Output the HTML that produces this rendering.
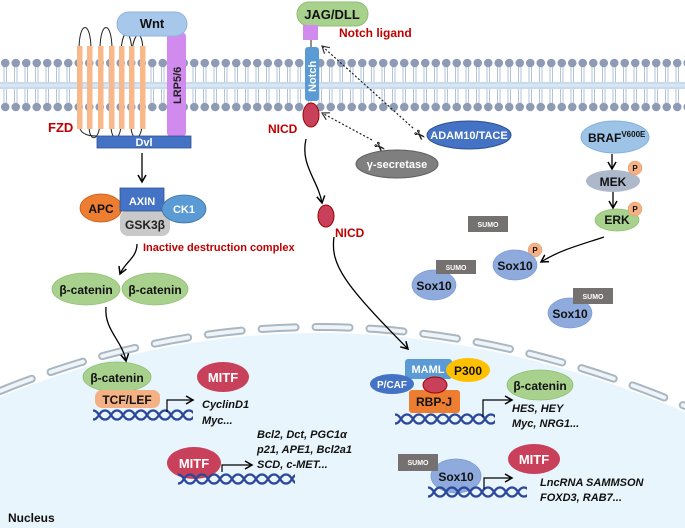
<!DOCTYPE html>
<html><head><meta charset="utf-8"><style>
html,body{margin:0;padding:0;background:#fff;}
svg{display:block;font-family:"Liberation Sans",Arial,sans-serif;font-weight:bold;}
</style></head><body>
<svg width="685" height="528" viewBox="0 0 685 528" xmlns="http://www.w3.org/2000/svg">
<defs>
<pattern id="mem" width="10.5" height="60" patternUnits="userSpaceOnUse">
 <line x1="4" y1="12" x2="4" y2="27" stroke="#b3c3d8" stroke-width="1"/>
 <line x1="6.5" y1="12" x2="6.5" y2="27" stroke="#b3c3d8" stroke-width="1"/>
 <line x1="4" y1="34" x2="4" y2="48" stroke="#b3c3d8" stroke-width="1"/>
 <line x1="6.5" y1="34" x2="6.5" y2="48" stroke="#b3c3d8" stroke-width="1"/>
 <circle cx="5.25" cy="8" r="4.3" fill="#8e9bb5"/>
 <circle cx="5.25" cy="52" r="4.3" fill="#8e9bb5"/>
</pattern>
<pattern id="dna" width="24" height="12" patternUnits="userSpaceOnUse">
 <path d="M0,1.5 C6,1.5 6,10.5 12,10.5 C18,10.5 18,1.5 24,1.5" fill="none" stroke="#2b479b" stroke-width="2.3"/>
 <path d="M0,10.5 C6,10.5 6,1.5 12,1.5 C18,1.5 18,10.5 24,10.5" fill="none" stroke="#2b479b" stroke-width="2.3"/>
</pattern>
<marker id="ar" markerWidth="10" markerHeight="10" refX="8" refY="5" orient="auto" markerUnits="userSpaceOnUse">
 <path d="M1,1 L8,5 L1,9" fill="none" stroke="#000" stroke-width="1.5"/>
</marker>
<marker id="ar2" markerWidth="10" markerHeight="10" refX="8" refY="5" orient="auto" markerUnits="userSpaceOnUse">
 <path d="M1,1 L8,5 L1,9" fill="none" stroke="#333" stroke-width="1.2"/>
</marker>
</defs>

<path d="M0,397 Q330,262 685,412 L685,528 L0,528 Z" fill="#e8f5fc"/>
<path d="M0,391 Q330,256 685,406" fill="none" stroke="#a9b7c2" stroke-width="8" stroke-linecap="round" stroke-dasharray="34 20"/>
<path d="M0,391 Q330,256 685,406" fill="none" stroke="#eef4f8" stroke-width="4" stroke-linecap="round" stroke-dasharray="34 20"/>

<rect x="0" y="82" width="685" height="7" fill="#d6e6f5"/>
<line x1="0" y1="83" x2="685" y2="83" stroke="#b9cde3" stroke-width="1"/>
<line x1="0" y1="88" x2="685" y2="88" stroke="#b9cde3" stroke-width="1"/>
<g transform="translate(0,55)"><rect x="0" y="0" width="685" height="60" fill="url(#mem)"/></g>

<g fill="none" stroke="#222" stroke-width="1">
 <path d="M79,50 C79,20 91,20 91,50"/>
 <path d="M100,50 C100,20 112,20 112,50"/>
 <path d="M121,50 C123,28 130,28 132,50"/>
 <path d="M132,50 C135,30 142,30 143,50"/>
 <path d="M89,125 C89,142 98,142 100,125"/>
 <path d="M111,125 C111,142 120,142 121,125"/>
 <path d="M131,125 C131,142 141,142 142,125"/>
 <path d="M79,125 C80,136 92,136 97,136"/>
</g>
<g fill="#f9b88a">
 <rect x="77" y="46" width="5.5" height="83"/><rect x="87" y="46" width="5.5" height="83"/>
 <rect x="98" y="46" width="5.5" height="83"/><rect x="109" y="46" width="5.5" height="83"/>
 <rect x="119" y="46" width="5.5" height="83"/><rect x="129" y="46" width="5.5" height="83"/>
 <rect x="140" y="46" width="5.5" height="83"/>
</g>
<text x="48" y="132" font-size="13" fill="#c00000">FZD</text>
<rect x="167" y="33" width="19" height="103" rx="3" fill="#d18bef"/>
<text transform="translate(181,104) rotate(-90)" font-size="11" fill="#222">LRP5/6</text>
<rect x="117" y="12" width="70" height="24" rx="12" fill="#a7c8ea" stroke="#8fb4de"/>
<text x="152" y="28" font-size="13" text-anchor="middle" fill="#111">Wnt</text>
<rect x="97" y="136" width="94" height="12" fill="#4472c4" stroke="#2f528f" stroke-width="0.8"/>
<text x="144" y="146" font-size="11" text-anchor="middle" fill="#fff">Dvl</text>
<line x1="142" y1="153" x2="142" y2="182" stroke="#000" stroke-width="1.3" marker-end="url(#ar)"/>

<ellipse cx="101" cy="208" rx="21" ry="14" fill="#ed7d31" stroke="#c55a11" stroke-width="0.8"/>
<text x="101" y="213" font-size="12" text-anchor="middle" fill="#111">APC</text>
<rect x="120" y="210" width="50" height="26" rx="8" fill="#c9c9c9"/>
<text x="145" y="229" font-size="12" text-anchor="middle" fill="#222">GSK3β</text>
<rect x="120" y="188" width="44" height="23" fill="#4472c4" stroke="#2f528f" stroke-width="0.8"/>
<text x="142" y="205" font-size="11" text-anchor="middle" fill="#fff">AXIN</text>
<ellipse cx="184" cy="209" rx="22" ry="14" fill="#5b9bd5" stroke="#41719c" stroke-width="0.8"/>
<text x="184" y="213" font-size="11" text-anchor="middle" fill="#fff">CK1</text>
<text x="143" y="251" font-size="11" fill="#c00000">Inactive destruction complex</text>
<path d="M137,244 C137,258 125,262 120,274" fill="none" stroke="#000" stroke-width="1.3" marker-end="url(#ar)"/>

<g fill="#a9d18e" stroke="#8fbf70" stroke-width="0.8">
 <ellipse cx="86" cy="289" rx="34" ry="16"/><ellipse cx="155" cy="289" rx="33" ry="16"/>
 <ellipse cx="117" cy="377" rx="34" ry="15"/><ellipse cx="540" cy="385" rx="33" ry="15"/>
 <ellipse cx="617" cy="220" rx="22" ry="11"/>
</g>
<g font-size="12" text-anchor="middle" fill="#111">
 <text x="86" y="294">β-catenin</text><text x="155" y="294">β-catenin</text>
 <text x="117" y="382">β-catenin</text><text x="540" y="390">β-catenin</text>
</g>
<path d="M106,307 C104,330 122,340 126,361" fill="none" stroke="#000" stroke-width="1.3" marker-end="url(#ar)"/>
<rect x="95" y="390" width="65" height="18" rx="7" fill="#f4b183"/>
<text x="127" y="404" font-size="12" text-anchor="middle" fill="#111">TCF/LEF</text>
<g transform="translate(93,409)"><rect width="100" height="12" fill="url(#dna)"/></g>
<path d="M167,412 V400 H193" fill="none" stroke="#000" stroke-width="1.2" marker-end="url(#ar)"/>
<g fill="#c9405a">
 <ellipse cx="223" cy="377" rx="26" ry="15"/><ellipse cx="194" cy="463" rx="27" ry="16"/>
 <ellipse cx="534" cy="459" rx="26" ry="15"/>
</g>
<g font-size="13" text-anchor="middle" fill="#fff">
 <text x="223" y="382">MITF</text><text x="194" y="468">MITF</text><text x="534" y="464">MITF</text>
</g>
<g font-size="11" font-style="italic" fill="#111">
 <text x="202" y="408">CyclinD1</text><text x="202" y="424">Myc...</text>
 <text x="257" y="438">Bcl2, Dct, PGC1α</text><text x="257" y="453">p21, APE1, Bcl2a1</text><text x="257" y="468">SCD, c-MET...</text>
 <text x="512" y="412">HES, HEY</text><text x="512" y="427">Myc, NRG1...</text>
 <text x="540" y="486">LncRNA SAMMSON</text><text x="540" y="501">FOXD3, RAB7...</text>
</g>
<g transform="translate(178,473)"><rect width="117" height="12" fill="url(#dna)"/></g>
<path d="M222,472 V465 H252" fill="none" stroke="#000" stroke-width="1.2" marker-end="url(#ar)"/>
<text x="8" y="522" font-size="12" fill="#111">Nucleus</text>

<rect x="297" y="2" width="71" height="24" rx="12" fill="#a9d18e" stroke="#8fbf70"/>
<text x="332" y="19" font-size="13" text-anchor="middle" fill="#111">JAG/DLL</text>
<rect x="303" y="25" width="15" height="15" fill="#d18bef"/>
<text x="339" y="37" font-size="12" fill="#c00000">Notch ligand</text>
<line x1="311" y1="40" x2="311" y2="48" stroke="#222"/>
<rect x="305" y="47" width="14" height="54" rx="3" fill="#5b9bd5"/>
<text transform="translate(316,92) rotate(-90)" font-size="11" fill="#fff">Notch</text>
<ellipse cx="311" cy="115" rx="8" ry="12" fill="#c9405a" stroke="#a00000"/>
<text x="268" y="133" font-size="12" fill="#c00000">NICD</text>
<line x1="413" y1="128" x2="322" y2="46" stroke="#222" stroke-width="1.2" stroke-dasharray="2 2" marker-end="url(#ar2)"/>
<line x1="372" y1="140" x2="322" y2="113" stroke="#222" stroke-width="1.2" stroke-dasharray="2 2" marker-end="url(#ar2)"/>
<text x="416" y="136" font-size="13" fill="#222" transform="rotate(45 416 131)">✂</text>
<text x="376" y="148" font-size="13" fill="#222" transform="rotate(45 376 143)">✂</text>
<ellipse cx="469" cy="135" rx="42" ry="14" fill="#4472c4" stroke="#2f528f"/>
<text x="469" y="139" font-size="11" text-anchor="middle" fill="#fff">ADAM10/TACE</text>
<ellipse cx="397" cy="164" rx="41" ry="14" fill="#7f7f7f" stroke="#606060"/>
<text x="397" y="168" font-size="11" text-anchor="middle" fill="#fff">γ-secretase</text>
<path d="M306,139 C300,165 318,180 322,203" fill="none" stroke="#000" stroke-width="1.3" marker-end="url(#ar)"/>
<ellipse cx="326" cy="216" rx="8" ry="11" fill="#c9405a" stroke="#a00000"/>
<text x="335" y="237" font-size="12" fill="#c00000">NICD</text>
<path d="M334,237 C330,265 345,285 408,349" fill="none" stroke="#000" stroke-width="1.3" marker-end="url(#ar)"/>

<rect x="405" y="359" width="47" height="20" rx="3" fill="#5b9bd5"/>
<text x="428" y="373" font-size="11" text-anchor="middle" fill="#fff">MAML</text>
<ellipse cx="468" cy="370" rx="22" ry="12" fill="#ffc000"/>
<text x="468" y="375" font-size="12" text-anchor="middle" fill="#111">P300</text>
<ellipse cx="392" cy="384" rx="22" ry="10" fill="#4472c4"/>
<text x="392" y="388" font-size="10" text-anchor="middle" fill="#fff">P/CAF</text>
<rect x="409" y="390" width="51" height="23" rx="3" fill="#ed7d31"/>
<text x="434" y="406" font-size="12" text-anchor="middle" fill="#111">RBP-J</text>
<ellipse cx="435" cy="385" rx="12" ry="8" fill="#c9405a" stroke="#a00000"/>
<g transform="translate(395,413)"><rect width="100" height="12" fill="url(#dna)"/></g>
<path d="M483,417 V400 H512" fill="none" stroke="#000" stroke-width="1.2" marker-end="url(#ar)"/>

<ellipse cx="615" cy="137" rx="34" ry="16" fill="#9dc3e6" stroke="#84b1dc"/>
<text x="588" y="142" font-size="12" fill="#111">BRAF<tspan font-size="8" dy="-5">V600E</tspan></text>
<line x1="612" y1="154" x2="612" y2="169" stroke="#000" stroke-width="1.3" marker-end="url(#ar)"/>
<ellipse cx="613" cy="181" rx="27" ry="11" fill="#adb9ca"/>
<text x="613" y="186" font-size="12" text-anchor="middle" fill="#111">MEK</text>
<line x1="613" y1="192" x2="613" y2="208" stroke="#000" stroke-width="1.3" marker-end="url(#ar)"/>
<text x="617" y="224" font-size="12" text-anchor="middle" fill="#111">ERK</text>
<g fill="#f4b183" stroke="#e59866" stroke-width="0.5">
 <circle cx="635" cy="168" r="7"/><circle cx="635" cy="209" r="7"/><circle cx="535" cy="250" r="7"/>
</g>
<g font-size="8" text-anchor="middle" fill="#111">
 <text x="635" y="171">P</text><text x="635" y="212">P</text><text x="535" y="253">P</text>
</g>
<path d="M604,237 C580,245 560,250 541,262" fill="none" stroke="#000" stroke-width="1.3" marker-end="url(#ar)"/>

<g fill="#8faadc" stroke="#7a98d0" stroke-width="0.7">
 <ellipse cx="515" cy="265" rx="22" ry="15"/><ellipse cx="434" cy="285" rx="22" ry="15"/>
 <ellipse cx="570" cy="313" rx="22" ry="15"/><ellipse cx="456" cy="476" rx="25" ry="17"/>
</g>
<g font-size="12" text-anchor="middle" fill="#111">
 <text x="515" y="270">Sox10</text><text x="434" y="290">Sox10</text>
 <text x="570" y="318">Sox10</text><text x="456" y="481">Sox10</text>
</g>
<g fill="#767171">
 <rect x="468" y="216" width="40" height="16"/><rect x="436" y="260" width="40" height="14"/>
 <rect x="573" y="288" width="40" height="16"/><rect x="398" y="454" width="40" height="17"/>
</g>
<g font-size="7" text-anchor="middle" fill="#fff">
 <text x="488" y="227">SUMO</text><text x="456" y="270">SUMO</text>
 <text x="593" y="299">SUMO</text><text x="418" y="465">SUMO</text>
</g>
<g transform="translate(428,486)"><rect width="99" height="12" fill="url(#dna)"/></g>
<path d="M484,489 V478 H512" fill="none" stroke="#000" stroke-width="1.2" marker-end="url(#ar)"/>
</svg>
</body></html>
